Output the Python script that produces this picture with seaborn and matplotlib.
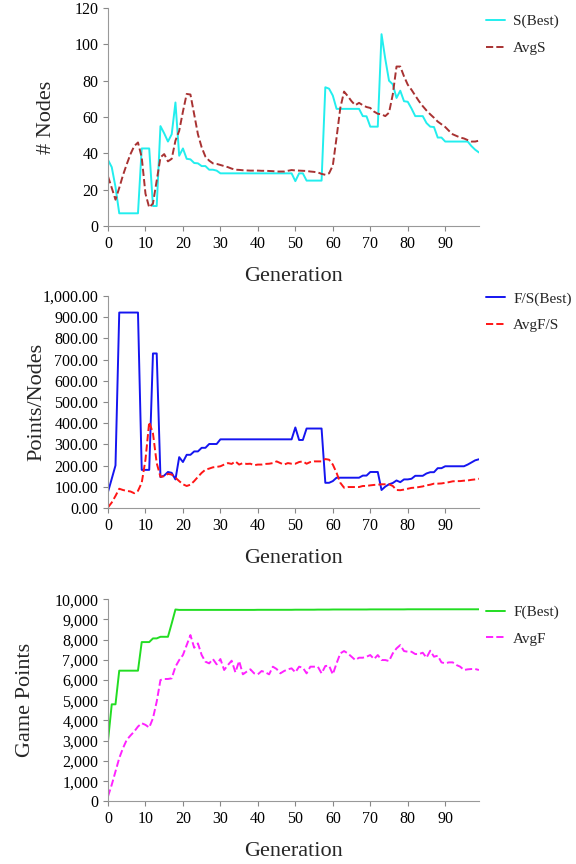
import numpy as np
import pandas as pd
import matplotlib
matplotlib.use("Agg")
import matplotlib.pyplot as plt
from matplotlib.ticker import FuncFormatter
import seaborn as sns

# generations 0..99
gen = list(range(100))

s_best = [36.4, 32.4, 21.5, 7, 7, 7, 7, 7, 7, 42.7,
          42.7, 42.7, 11, 11, 55, 51, 46.5, 50.5, 68, 38.7,
          42.7, 37, 36.7, 34.7, 34.5, 33, 33, 31, 31, 30.5,
          29, 29, 29, 29, 29, 29, 29, 29, 29, 29,
          29, 29, 29, 29, 29, 29, 29, 29, 29, 29,
          24.7, 29, 29, 25, 25, 25, 25, 25, 76.4, 75.6,
          71.8, 64.5, 64.5, 64.5, 64.5, 64.5, 64.5, 64.5, 60.5, 60.4,
          54.7, 54.7, 54.7, 105.6, 92, 80, 78, 70.5, 74.5, 68.7,
          68.4, 64.7, 60.5, 60.5, 60.5, 56.7, 54.7, 54.5, 48.7, 48.7,
          46.5, 46.5, 46.5, 46.5, 46.5, 46.5, 46.5, 44, 42, 40.5]

avg_s = [27.3, 21, 14.5, 21, 28, 34, 39.6, 44, 46, 37.8,
         17.8, 10.2, 12.4, 25, 37.8, 39.6, 35.6, 37, 47, 52.4,
         63, 72.7, 72.4, 61.5, 50.5, 43.3, 38.2, 36, 34.5, 34.2,
         33.6, 33, 32.4, 31.6, 31, 30.9, 30.7, 30.6, 30.5, 30.5,
         30.5, 30.4, 30.4, 30.3, 30.2, 30.0, 30.0, 30.0, 30.4, 30.8,
         30.6, 30.5, 30.4, 30.3, 30.0, 29.8, 29.5, 28.7, 28.2, 29,
         33.3, 48.7, 65, 74, 71.5, 68.7, 66.5, 67.8, 66.5, 65.5,
         65, 63, 61.8, 61.5, 60.5, 62.4, 72.4, 87.8, 87.8, 82.4,
         77.8, 75, 71.8, 68.7, 66, 63.6, 61.5, 59.6, 57.5, 56,
         54.5, 52.4, 50.5, 49.6, 48.7, 48.2, 47.3, 46.5, 46.5, 47]

fs_best = [76, 138, 201, 922, 922, 922, 922, 922, 922, 180,
           180, 180, 729, 729, 146, 153, 170, 166, 135, 240,
           217, 251, 251, 267, 267, 284, 284, 302, 302, 302,
           324, 324, 324, 324, 324, 324, 324, 324, 324, 324,
           324, 324, 324, 324, 324, 324, 324, 324, 324, 324,
           380, 321, 321, 375, 375, 375, 375, 375, 119, 119,
           127, 143, 143, 143, 143, 143, 143, 143, 153, 153,
           170, 170, 170, 85, 101, 112, 118, 130, 122, 135,
           135, 138, 152, 152, 152, 163, 169, 169, 188, 188,
           197, 197, 197, 197, 197, 197, 205, 215, 225, 230]

avg_fs = [3, 26, 57, 91, 85, 81, 78, 70, 81, 119,
          228, 406, 352, 212, 147, 150, 161, 158, 143, 127,
          112, 104, 110, 127, 147, 166, 181, 186, 192, 194,
          197, 205, 212, 208, 220, 205, 212, 208, 209, 202,
          205, 205, 208, 209, 212, 220, 212, 205, 212, 209,
          209, 217, 220, 209, 217, 220, 220, 220, 231, 228,
          205, 166, 119, 96, 99, 99, 99, 99, 104, 104,
          107, 109, 110, 112, 112, 112, 104, 85, 84, 87,
          91, 95, 96, 99, 102, 107, 110, 115, 115, 116,
          119, 122, 126, 127, 127, 129, 130, 133, 135, 138]

f_best = [2993, 4800, 4800, 6464, 6464, 6464, 6464, 6464, 6464, 7878,
          7878, 7878, 8060, 8060, 8140, 8140, 8140, 8800, 9490, 9470,
          9470, 9470, 9470, 9470, 9470, 9470, 9470, 9470, 9470, 9470,
          9470, 9470, 9470, 9470, 9470, 9470, 9470, 9470, 9470, 9470,
          9475, 9475, 9475, 9475, 9475, 9475, 9475, 9475, 9475, 9475,
          9480, 9480, 9480, 9480, 9480, 9480, 9485, 9485, 9485, 9485,
          9490, 9490, 9490, 9490, 9490, 9490, 9490, 9490, 9490, 9490,
          9495, 9495, 9495, 9495, 9495, 9495, 9495, 9495, 9495, 9495,
          9500, 9500, 9500, 9500, 9500, 9500, 9500, 9500, 9500, 9500,
          9500, 9500, 9500, 9500, 9500, 9500, 9500, 9500, 9500, 9500]

avg_f = [247, 822, 1480, 2138, 2632, 3043, 3257, 3454, 3700, 3865,
         3783, 3651, 4112, 4934, 6003, 6053, 6053, 6086, 6661, 6990,
         7237, 7730, 8224, 7599, 7812, 7237, 6908, 6825, 7039, 6776,
         7039, 6497, 6743, 6957, 6382, 6941, 6283, 6414, 6530, 6332,
         6283, 6447, 6382, 6283, 6661, 6546, 6332, 6447, 6530, 6579,
         6382, 6661, 6612, 6332, 6661, 6661, 6661, 6332, 6694, 6710,
         6283, 6826, 7319, 7434, 7319, 7155, 6990, 7105, 7105, 7155,
         7237, 7039, 7237, 6990, 6990, 6941, 7319, 7566, 7730, 7434,
         7401, 7401, 7286, 7286, 7352, 7105, 7451, 7155, 7204, 6875,
         6826, 6875, 6875, 6743, 6661, 6497, 6530, 6546, 6546, 6497]

sns.set_style("ticks")
plt.rcParams['font.family'] = ['Liberation Serif', 'DejaVu Serif']

df = pd.DataFrame({"gen": gen, "S(Best)": s_best, "AvgS": avg_s,
                   "F/S(Best)": fs_best, "AvgF/S": avg_fs,
                   "F(Best)": f_best, "AvgF": avg_f})

fig = plt.figure(figsize=(5.76, 8.64), dpi=100)

# series, colours, ylabel, ymax, tick step, formatter, axes rect, legend y, ylabel x
panels = [
    (("S(Best)", "AvgS"), ("#22EEEE", "#A83232"), "# Nodes", 120, 20,
     lambda v, p: "%d" % v, [0.1875, 0.7384, 0.644, 0.2523], 0.97, -0.14),
    (("F/S(Best)", "AvgF/S"), ("#1515F0", "#FF1515"), "Points/Nodes", 1000, 100,
     lambda v, p: "{:,.2f}".format(v), [0.1875, 0.412, 0.644, 0.2454], 1.02, -0.167),
    (("F(Best)", "AvgF"), ("#22DD22", "#FF22FF"), "Game Points", 10000, 1000,
     lambda v, p: "{:,.0f}".format(v), [0.1875, 0.0725, 0.644, 0.234], 0.97, -0.197),
]

for cols, colors, ylab, ymax, step, fmt, rect, legy, labx in panels:
    ax = fig.add_axes(rect)
    sns.lineplot(data=df, x="gen", y=cols[0], color=colors[0], lw=1.4,
                 label=cols[0], ax=ax)
    sns.lineplot(data=df, x="gen", y=cols[1], color=colors[1], lw=1.4,
                 linestyle="--", dashes=(5, 2.5), label=cols[1], ax=ax)
    ax.set_xlim(0, 99)
    ax.set_ylim(0, ymax)
    ax.set_xticks(range(0, 100, 10))
    ax.set_yticks(np.arange(0, ymax + step, step))
    ax.yaxis.set_major_formatter(FuncFormatter(fmt))
    ax.tick_params(labelsize=11.5, colors="#888888", labelcolor="black",
                   length=3.5, width=0.8)
    for s in ("left", "bottom"):
        ax.spines[s].set_color("#999999")
        ax.spines[s].set_linewidth(0.8)
    sns.despine(ax=ax)
    ax.set_xlabel("Generation", fontsize=16, labelpad=11)
    ax.set_ylabel(ylab, fontsize=16)
    ax.yaxis.set_label_coords(labx, 0.5)
    ax.legend(loc="upper left", bbox_to_anchor=(1.02, legy), frameon=False,
              fontsize=11, handlelength=1.25, handletextpad=0.5,
              borderaxespad=0, borderpad=0, labelspacing=0.85)

fig.savefig("out.png", dpi=100)
